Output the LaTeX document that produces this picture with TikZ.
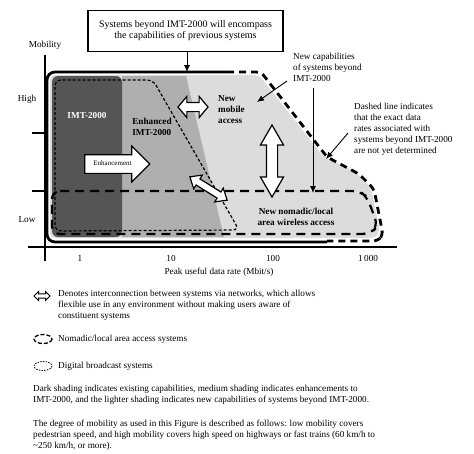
\documentclass[tikz,border=0pt]{standalone}
\usepackage{fontspec}
\setmainfont{Liberation Serif}
\usetikzlibrary{shapes.arrows,arrows.meta}
\definecolor{darkshade}{HTML}{555555}
\definecolor{medshade}{HTML}{AFAFAF}
\definecolor{lightshade}{HTML}{DCDCDC}
\tikzset{
  txt/.style={font=\fontsize{9.2}{11}\selectfont, inner sep=0pt, align=left},
  ctxt/.style={font=\fontsize{9.2}{11}\selectfont, inner sep=0pt, align=center},
  blbl/.style={font=\fontsize{9.2}{11}\selectfont\bfseries, inner sep=0pt},
  axisline/.style={line width=1.6pt},
  outerline/.style={line width=2.8pt},
  outerdash/.style={line width=2.8pt, dash pattern=on 7pt off 5pt},
  nomadic/.style={line width=2.2pt, dash pattern=on 9pt off 6pt},
  bcast/.style={line width=1.2pt, dash pattern=on 3pt off 2pt},
  ptr/.style={line width=0.9pt, -{Latex[length=7pt,width=6pt]}},
  dblarr/.style={double arrow, draw, fill=white, line width=1.2pt, inner xsep=0pt},
}
\begin{document}
\begin{tikzpicture}[x=1pt,y=-1pt]
\useasboundingbox (0,0) rectangle (474,453);
% shaded regions
\fill[lightshade, rounded corners=5] (50,75) -- (259,75) -- (323,156) -- (356,172) -- (371,188) -- (380,233) -- (374,238) -- (50,238) -- cycle;
\fill[medshade] (122,76) -- (186,76) -- (224,237) -- (122,237) -- cycle;
\fill[darkshade, rounded corners=6] (122,76) -- (52,76) -- (52,237) -- (122,237) -- cycle;
% outer border
\draw[outerline, rounded corners=8] (227,72) -- (47,72) -- (47,242) -- (327,242);
\draw[outerdash, rounded corners=5] (227,72) -- (261,72) -- (327,157) -- (359,174) -- (374,189) -- (383,235) -- (378,241) -- (327,241);
% broadcast
\draw[bcast, rounded corners=6] (55,231) -- (55,80) -- (153,80) -- (239,230) -- cycle;
% nomadic
\draw[nomadic, rounded corners=8] (52,191) -- (360,191) -- (367,197) -- (378,226) -- (370,234) -- (52,234) -- cycle;
% axes
\draw[axisline] (45,55) -- (45,261);
\draw[axisline] (28,247) -- (397,247);
\draw[axisline] (32,133) -- (45,133);
\draw[axisline] (32,191) -- (45,191);
\node[ctxt] (mob) at (45,45) {Mobility};
\node[ctxt] (high) at (27,99) {High};
\node[ctxt] (low) at (27,220) {Low};
\node[ctxt] (t1) at (80,258) {1};
\node[ctxt] (t10) at (171,258) {10};
\node[ctxt] (t100) at (273,258) {100};
\node[ctxt] (t1000) at (368,258) {1\,000};
\node[ctxt] (xlab) at (219,272) {Peak useful data rate (Mbit/s)};
% top box
\node[draw, line width=1.4pt, minimum width=195pt, minimum height=41pt, ctxt, font=\fontsize{10}{11}\selectfont] (top) at (185.5,31) {Systems beyond IMT-2000 will encompass\\the capabilities of previous systems};
\coordinate (topend) at (187,72);
\draw[ptr] (top.south -| topend) -- (topend);
% region labels
\node[blbl, text=white] (imt) at (87,115) {IMT-2000};
\node[blbl, align=left] (enh) at (152,127) {Enhanced\\IMT-2000};
\node[blbl, align=left, anchor=west] (mobacc) at (218,110) {New\\mobile\\access};
\node[blbl, align=center] (nomacc) at (296,217) {New nomadic/local\\area wireless access};
% block arrows
\node[single arrow, draw, fill=white, line width=1.2pt, minimum height=65pt, inner xsep=2pt, inner ysep=5.5pt, text height=5pt, text depth=1.5pt, single arrow head extend=8.5pt, single arrow tip angle=90, font=\fontsize{7}{8}\selectfont] (enharr) at (112.5,164) {Enhancement};
\node[dblarr, minimum height=30pt, inner ysep=4pt, double arrow head extend=6pt, double arrow tip angle=100] (harr) at (193,107) {};
\node[dblarr, minimum height=72pt, inner ysep=5pt, double arrow head extend=6pt, double arrow tip angle=60, rotate=90] (varr) at (272,161) {};
\node[dblarr, minimum height=44pt, inner ysep=3pt, double arrow head extend=4.5pt, double arrow tip angle=80, rotate=-32] (darr) at (208.5,188.5) {};
% annotations
\node[txt, anchor=west] (newcap) at (293,67) {New capabilities\\of systems beyond\\IMT-2000};
\coordinate (nc1) at (287,81);
\coordinate (nc2) at (257,102);
\draw[ptr] (nc1) -- (nc2);
\coordinate (vl1) at (313,88);
\coordinate (vl2) at (313,193);
\draw[ptr] (vl1) -- (vl2);
\node[txt, anchor=west] (dashnote) at (354,129) {Dashed line indicates\\that the exact data\\rates associated with\\systems beyond IMT-2000\\are not yet determined};
\coordinate (dn1) at (348,133);
\coordinate (dn2) at (326,159);
\draw[ptr] (dn1) -- (dn2);
% legend
\node[dblarr, minimum height=16pt, inner ysep=1.6pt, double arrow head extend=2.4pt, double arrow tip angle=90, line width=1pt] (legarr) at (42,296) {};
\node[txt, anchor=north west] (leg1) at (58,290) {Denotes interconnection between systems via networks, which allows\\flexible use in any environment without making users aware of\\constituent systems};
\draw[line width=1.3pt, dash pattern=on 4pt off 2pt] (43,339) ellipse [x radius=9, y radius=4.5];
\node[txt, anchor=west] (leg2) at (58,339) {Nomadic/local area access systems};
\draw[line width=0.8pt, dash pattern=on 1.5pt off 1.2pt] (43,366) ellipse [x radius=9, y radius=4.5];
\node[txt, anchor=west] (leg3) at (58,366) {Digital broadcast systems};
\node[txt, anchor=north west] (para1) at (33,385) {Dark shading indicates existing capabilities, medium shading indicates enhancements to\\IMT-2000, and the lighter shading indicates new capabilities of systems beyond IMT-2000.};
\node[txt, anchor=north west] (para2) at (33,420) {The degree of mobility as used in this Figure is described as follows: low mobility covers\\pedestrian speed, and high mobility covers high speed on highways or fast trains (60 km/h to\\\textasciitilde250 km/h, or more).};
\end{tikzpicture}
\end{document}
